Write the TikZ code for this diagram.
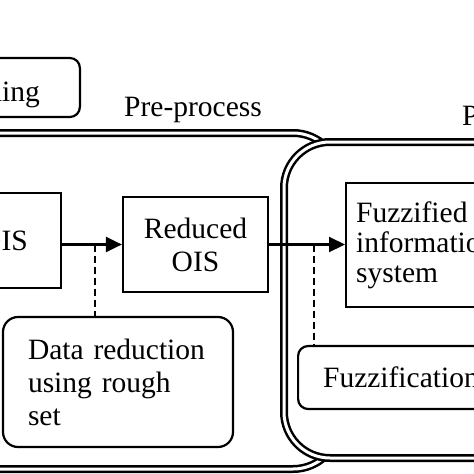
\documentclass[tikz,border=0pt]{standalone}
\usepackage{fontspec}
\setmainfont{Liberation Serif}
\usetikzlibrary{arrows.meta}
\begin{document}
\begin{tikzpicture}[x=1pt,y=-1pt,
  every node/.style={font=\fontsize{29.5}{33}\selectfont},
  box/.style={draw, line width=2.2pt, inner sep=0pt},
  container/.style={draw, line width=2.5pt, double=white, double distance=3pt, inner sep=0pt},
  lbl/.style={inner sep=0pt},
  arr/.style={line width=2.2pt, -{Triangle[length=16pt,width=15pt]}},
  dashline/.style={line width=1.6pt, dash pattern=on 7pt off 4pt}
]
\useasboundingbox (0,0) rectangle (474,474);
\clip (0,0) rectangle (474,474);
% containers
\node[container, rounded corners=47pt, minimum width=440pt, minimum height=336pt] (pre) at (120,301) {};
\node[container, fill=white, rounded corners=46pt, minimum width=356pt, minimum height=316pt] (pro) at (462,300) {};
% labels
\node[lbl, anchor=base] (lpre) at (193,116) {Pre-process};
\node[lbl, anchor=base west] (lpro) at (462,125) {Process};
% top-left box
\node[box, rounded corners=10pt, anchor=east, minimum height=59pt, inner xsep=40pt, text height=27pt, text depth=0pt] (dm) at (81,87.5) {Data mining};
% boxes
\node[box, minimum width=114pt, minimum height=95pt] (ois) at (4,240.5) {OIS};
\node[box, minimum width=145pt, minimum height=95pt, align=center] (red) at (195.5,244.5) {Reduced\\OIS};
\node[box, rounded corners=15pt, minimum width=230pt, minimum height=130pt, text width=180pt, inner xsep=25pt, align=left] (drs) at (118,382) {Data reduction\\using rough\\set};
\node[box, anchor=west, minimum height=124pt, text width=255pt, inner xsep=10pt, align=left, font=\fontsize{29.5}{30}\selectfont] (fis) at (345,245) {Fuzzified\\information\\system};
\node[box, rounded corners=10pt, anchor=west, minimum height=63pt, text width=250pt, inner xsep=25pt, align=left] (fz) at (297,377.5) {Fuzzification};
% connectors
\coordinate (j1) at (95,244.5);
\coordinate (j2) at (314,244.5);
\draw[arr] (ois.east |- red.west) -- (red.west);
\draw[dashline] (j1) -- (j1 |- drs.north);
\draw[arr] (red.east) -- (red.east -| fis.west);
\draw[dashline] (j2) -- (j2 |- fz.north);
\end{tikzpicture}
\end{document}
